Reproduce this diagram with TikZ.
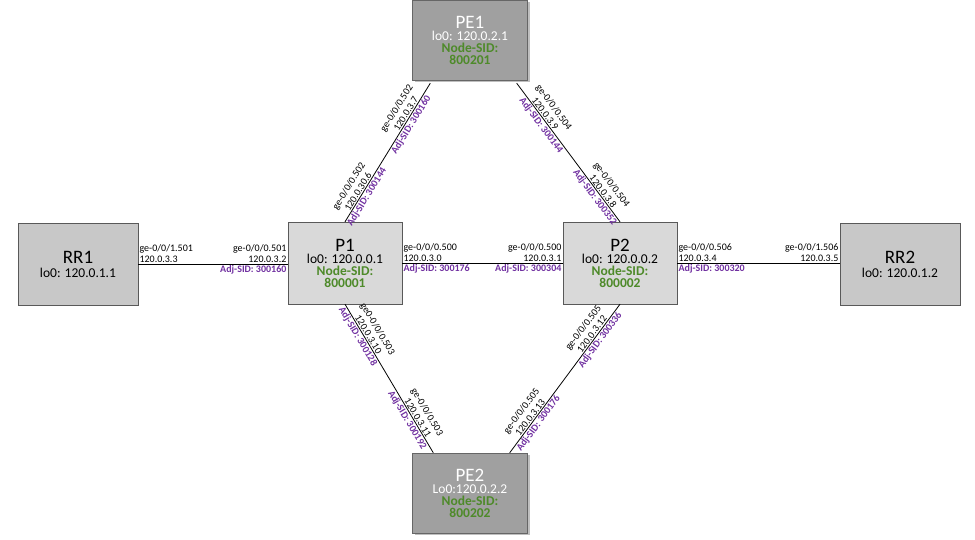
\documentclass[tikz,border=0pt]{standalone}
\usepackage{fontspec}
\setmainfont{Carlito}
\usetikzlibrary{calc,shadows}
\definecolor{sidgreen}{HTML}{4E8A2A}
\definecolor{adjpurple}{HTML}{7030A0}
\definecolor{boxgray}{HTML}{D9D9D9}
\definecolor{rrgray}{HTML}{C8C8C8}
\definecolor{pegray}{HTML}{A0A0A0}
\newcommand\ttlf[1]{{\fontsize{19}{21}\selectfont #1}}
\newcommand\lof[1]{{\fontsize{13.5}{15}\selectfont #1}}
\newcommand\sidf[1]{{\fontsize{13.5}{15}\selectfont\bfseries\color{sidgreen}#1}}
\tikzset{
  rbox/.style={draw=gray!70!black, fill=rrgray, minimum width=120pt, minimum height=82pt, inner sep=0pt, align=center},
  pbox/.style={draw=gray!70!black, fill=boxgray, minimum width=114pt, minimum height=82pt, inner sep=0pt, align=center},
  pebox/.style={draw=gray!80!black, fill=pegray, minimum width=115pt, minimum height=80pt, inner sep=0pt, align=center, drop shadow={opacity=0.5}, text=white},
  lnk/.style={line width=0.8pt},
  lb/.style={font=\fontsize{10}{11}\selectfont, inner sep=1pt, align=center},
  adj/.style={font=\fontsize{10}{11}\selectfont\bfseries, text=adjpurple, inner sep=1pt}
}
\begin{document}
\begin{tikzpicture}[x=1pt,y=-1pt]
\useasboundingbox (0,0) rectangle (975,539);
\node[rbox] (RR1) at (78,264) {\ttlf{RR1}\\[2pt]\lof{lo0: 120.0.1.1}};
\node[rbox] (RR2) at (900,264) {\ttlf{RR2}\\[2pt]\lof{lo0: 120.0.1.2}};
\node[pbox] (P1) at (345,263) {\ttlf{P1}\\\lof{lo0: 120.0.0.1}\\\sidf{Node-SID:}\\\sidf{800001}};
\node[pbox] (P2) at (620,263) {\ttlf{P2}\\\lof{lo0: 120.0.0.2}\\\sidf{Node-SID:}\\\sidf{800002}};
\node[pebox] (PE1) at (470,40) {\ttlf{PE1}\\\lof{lo0: 120.0.2.1}\\\sidf{Node-SID:}\\\sidf{800201}};
\node[pebox] (PE2) at (470,493) {\ttlf{PE2}\\\lof{Lo0:120.0.2.2}\\\sidf{Node-SID:}\\\sidf{800202}};
% horizontal links
\draw[lnk] (RR1.east) -- (RR1.east -| P1.west)
  node[pos=0,anchor=south west,lb,align=left] {ge-0/0/1.501\\120.0.3.3}
  node[pos=1,anchor=south east,lb,align=right] {ge-0/0/0.501\\120.0.3.2}
  node[pos=1,anchor=north east,adj] {Adj-SID: 300160};
\draw[lnk] (P1.east) -- (P2.west)
  node[pos=0,anchor=south west,lb,align=left] {ge-0/0/0.500\\120.0.3.0}
  node[pos=0,anchor=north west,adj] {Adj-SID: 300176}
  node[pos=1,anchor=south east,lb,align=right] {ge-0/0/0.500\\120.0.3.1}
  node[pos=1,anchor=north east,adj] {Adj-SID: 300304};
\draw[lnk] (P2.east) -- (P2.east -| RR2.west)
  node[pos=0,anchor=south west,lb,align=left] {ge-0/0/0.506\\120.0.3.4}
  node[pos=0,anchor=north west,adj] {Adj-SID: 300320}
  node[pos=1,anchor=south east,lb,align=right] {ge-0/0/1.506\\120.0.3.5};
% diagonal links
\draw[lnk] (P1.north) -- ($(PE1.south west)+(18,3)$)
  node[pos=0.2,sloped,above,lb] {ge-0/0/0.502\\120.0.30.6}
  node[pos=0.2,sloped,below,adj] {Adj-SID: 300144}
  node[pos=0.76,sloped,above,lb] {ge-0/0/0.502\\120.0.3.7}
  node[pos=0.72,sloped,below,adj] {Adj-SID: 300160};
\draw[lnk] ($(PE1.south east)+(-11,3)$) -- (P2.north)
  node[pos=0.24,sloped,above,lb] {ge-0/0/0.504\\120.0.3.9}
  node[pos=0.28,sloped,below,adj] {Adj-SID: 300144}
  node[pos=0.8,sloped,above,lb] {ge-0/0/0.504\\120.0.3.8}
  node[pos=0.8,sloped,below,adj] {Adj-SID: 300352};
\draw[lnk] (P1.south) -- ($(PE2.north west)+(21,0)$)
  node[pos=0.22,sloped,above,lb] {ge0-0/0/0.503\\120.0.3.10}
  node[pos=0.2,sloped,below,adj] {Adj-SID: 300128}
  node[pos=0.78,sloped,above,lb] {ge-0/0/0.503\\120.0.3.11}
  node[pos=0.76,sloped,below,adj] {Adj-SID: 300192};
\draw[lnk] ($(PE2.north east)+(-18,0)$) -- (P2.south)
  node[pos=0.22,sloped,above,lb] {ge-0/0/0.505\\120.0.3.13}
  node[pos=0.22,sloped,below,adj] {Adj-SID: 300176}
  node[pos=0.78,sloped,above,lb] {ge-0/0/0.505\\120.0.3.12}
  node[pos=0.78,sloped,below,adj] {Adj-SID: 300336};
\end{tikzpicture}
\end{document}
